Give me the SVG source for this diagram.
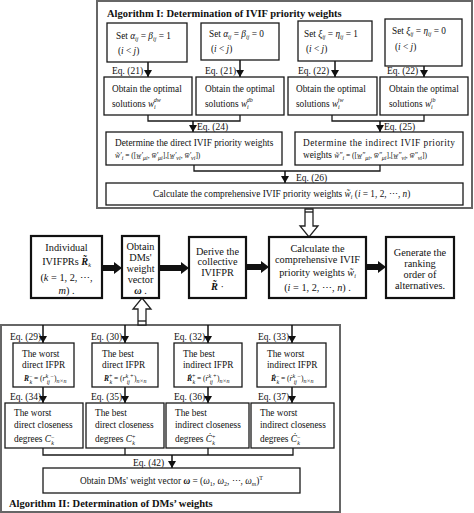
<svg xmlns="http://www.w3.org/2000/svg" width="474" height="513" viewBox="0 0 474 513">
<defs>
<marker id="ah" markerWidth="7" markerHeight="8" refX="7" refY="4" orient="auto" markerUnits="userSpaceOnUse">
<path d="M0,0 L7,4 L0,8 Z" fill="#111"/>
</marker>
<style>
text{font-family:"Liberation Serif","Times New Roman",serif;font-size:9.3px;fill:#111}
.i{font-style:italic}
.bi{font-style:italic;font-weight:bold}
.sb{font-size:6px}
.sm{font-size:7.5px}
.eq{font-size:9.5px}
.mr{font-size:10.3px}
.ttl{font-size:10.5px;font-weight:bold}
.bx{fill:#fff;stroke:#1a1a1a;stroke-width:1.3}
.bk{fill:#fff;stroke:#111;stroke-width:2.2}
.grp{fill:none;stroke:#666;stroke-width:2}
.ln{fill:none;stroke:#1a1a1a;stroke-width:1.3}
.ar{fill:none;stroke:#111;stroke-width:1.5;marker-end:url(#ah)}
.th{fill:#111}
.ho{fill:#fff;stroke:#222;stroke-width:1.3}
</style>
</defs>

<!-- group frames -->
<rect id="algI-frame" class="grp" x="97" y="1" width="375" height="207"/>
<rect id="algII-frame" class="grp" x="1" y="325" width="339" height="187"/>
<text class="ttl" x="107" y="17">Algorithm I: Determination of IVIF priority weights</text>
<text class="ttl" x="9" y="507">Algorithm II: Determination of DMs’ weights</text>

<g id="connectors">
<!-- Algorithm I -->
<line class="ar" x1="148" y1="62" x2="148" y2="77"/>
<line class="ar" x1="240" y1="60" x2="240" y2="77"/>
<line class="ar" x1="335" y1="61" x2="335" y2="77"/>
<line class="ar" x1="424" y1="66" x2="424" y2="77"/>
<text class="eq" x="112" y="74">Eq. (21)</text>
<text class="eq" x="205" y="74">Eq. (21)</text>
<text class="eq" x="298" y="74">Eq. (22)</text>
<text class="eq" x="387" y="74">Eq. (22)</text>
<polyline class="ln" points="148,115 148,121 240,121 240,115"/>
<polyline class="ln" points="332,115 332,121 424,121 424,115"/>
<line class="ar" x1="193" y1="121" x2="193" y2="132"/>
<line class="ar" x1="380" y1="121" x2="380" y2="132"/>
<text class="eq" x="197" y="130">Eq. (24)</text>
<text class="eq" x="384" y="130">Eq. (25)</text>
<polyline class="ln" points="194,165 194,171 380,171 380,165"/>
<line class="ar" x1="285" y1="171" x2="285" y2="183"/>
<text class="eq" x="296" y="181">Eq. (26)</text>
<!-- hollow arrow down -->
<path class="ho" d="M305,209 L313,209 L313,226 L318,226 L309,237 L300,226 L305,226 Z"/>
<line class="ln" x1="305" y1="212" x2="313" y2="212"/>
<!-- thick arrows main row -->
<path class="th" d="M102,265 L114,265 L114,262 L122,268 L114,274 L114,271 L102,271 Z"/>
<path class="th" d="M159,265 L181,265 L181,262 L189,268 L181,274 L181,271 L159,271 Z"/>
<path class="th" d="M246,264 L261,264 L261,261 L269,267 L261,273 L261,270 L246,270 Z"/>
<path class="th" d="M366,264 L378,264 L378,261 L386,267 L378,273 L378,270 L366,270 Z"/>
<!-- hollow arrow up -->
<path class="ho" d="M142,298 L151,309 L146,309 L146,325 L138,325 L138,309 L133,309 Z"/>
<line class="ln" x1="138" y1="321" x2="146" y2="321"/>
<!-- Algorithm II -->
<line class="ar" x1="43" y1="325" x2="43" y2="343"/>
<line class="ar" x1="125" y1="325" x2="125" y2="343"/>
<line class="ar" x1="208" y1="325" x2="208" y2="343"/>
<line class="ar" x1="292" y1="325" x2="292" y2="343"/>
<text class="eq" x="10" y="340">Eq. (29)</text>
<text class="eq" x="91" y="340">Eq. (30)</text>
<text class="eq" x="174" y="340">Eq. (32)</text>
<text class="eq" x="258" y="340">Eq. (33)</text>
<line class="ar" x1="43" y1="387" x2="43" y2="403"/>
<line class="ar" x1="125" y1="387" x2="125" y2="403"/>
<line class="ar" x1="208" y1="387" x2="208" y2="403"/>
<line class="ar" x1="292" y1="387" x2="292" y2="403"/>
<text class="eq" x="10" y="400">Eq. (34)</text>
<text class="eq" x="91" y="400">Eq. (35)</text>
<text class="eq" x="174" y="400">Eq. (36)</text>
<text class="eq" x="258" y="400">Eq. (37)</text>
<polyline class="ln" points="43,448 43,455 293,455 293,448"/>
<line class="ln" x1="125" y1="448" x2="125" y2="455"/>
<line class="ln" x1="208" y1="448" x2="208" y2="455"/>
<line class="ar" x1="172" y1="455" x2="172" y2="468"/>
<text class="eq" x="133" y="466">Eq. (42)</text>
</g>

<!-- Algorithm I nodes -->
<g id="set1"><rect class="bx" x="107" y="23" width="80" height="39"/>
<text x="116" y="39">Set  <tspan class="i">α</tspan><tspan class="sb i" dy="2">ij</tspan><tspan dy="-2"> = </tspan><tspan class="i">β</tspan><tspan class="sb i" dy="2">ij</tspan><tspan dy="-2"> = 1</tspan></text>
<text x="118" y="54">(<tspan class="i">i</tspan> &lt; <tspan class="i">j</tspan>)</text></g>
<g id="set2"><rect class="bx" x="201" y="23" width="78" height="37"/>
<text x="209" y="37">Set  <tspan class="i">α</tspan><tspan class="sb i" dy="2">ij</tspan><tspan dy="-2"> = </tspan><tspan class="i">β</tspan><tspan class="sb i" dy="2">ij</tspan><tspan dy="-2"> = 0</tspan></text>
<text x="211" y="52">(<tspan class="i">i</tspan> &lt; <tspan class="i">j</tspan>)</text></g>
<g id="set3"><rect class="bx" x="298" y="21" width="74" height="40"/>
<text x="304" y="37">Set  <tspan class="i">ξ</tspan><tspan class="sb i" dy="2">ij</tspan><tspan dy="-2"> = </tspan><tspan class="i">η</tspan><tspan class="sb i" dy="2">ij</tspan><tspan dy="-2"> = 1</tspan></text>
<text x="306" y="52">(<tspan class="i">i</tspan> &lt; <tspan class="i">j</tspan>)</text></g>
<g id="set4"><rect class="bx" x="385" y="19" width="77" height="47"/>
<text x="392" y="34">Set  <tspan class="i">ξ</tspan><tspan class="sb i" dy="2">ij</tspan><tspan dy="-2"> = </tspan><tspan class="i">η</tspan><tspan class="sb i" dy="2">ij</tspan><tspan dy="-2"> = 0</tspan></text>
<text x="395" y="50">(<tspan class="i">i</tspan> &lt; <tspan class="i">j</tspan>)</text></g>

<g id="opt1"><rect class="bx" x="104" y="77" width="88" height="38"/>
<text x="112" y="92">Obtain the optimal</text>
<text x="112" y="107">solutions  <tspan class="i">w</tspan><tspan class="sb i" dy="2">i</tspan><tspan class="sb i" dx="-2" dy="-7">dw</tspan></text></g>
<g id="opt2"><rect class="bx" x="196" y="77" width="88" height="38"/>
<text x="205" y="92">Obtain the optimal</text>
<text x="205" y="107">solutions  <tspan class="i">w</tspan><tspan class="sb i" dy="2">i</tspan><tspan class="sb i" dx="-2" dy="-7">db</tspan></text></g>
<g id="opt3"><rect class="bx" x="288" y="77" width="89" height="38"/>
<text x="296" y="92">Obtain the optimal</text>
<text x="296" y="107">solutions  <tspan class="i">w</tspan><tspan class="sb i" dy="2">i</tspan><tspan class="sb i" dx="-2" dy="-7">iw</tspan></text></g>
<g id="opt4"><rect class="bx" x="380" y="77" width="88" height="38"/>
<text x="389" y="92">Obtain the optimal</text>
<text x="389" y="107">solutions  <tspan class="i">w</tspan><tspan class="sb i" dy="2">i</tspan><tspan class="sb i" dx="-2" dy="-7">ib</tspan></text></g>

<g id="direct"><rect class="bx" x="106" y="132" width="176" height="33"/>
<text x="115" y="146">Determine the direct IVIF priority weights</text>
<text class="sm" x="115" y="158"><tspan class="i">w̃′</tspan><tspan class="sb i" dy="2">i</tspan><tspan dy="-2"> = ([</tspan><tspan class="i">w̲′</tspan><tspan class="sb i" dy="2">μi</tspan><tspan dy="-2">, </tspan><tspan class="i">w̅′</tspan><tspan class="sb i" dy="2">μi</tspan><tspan dy="-2">],[</tspan><tspan class="i">w̲′</tspan><tspan class="sb i" dy="2">νi</tspan><tspan dy="-2">, </tspan><tspan class="i">w̅′</tspan><tspan class="sb i" dy="2">νi</tspan><tspan dy="-2">])</tspan></text></g>
<g id="indirect"><rect class="bx" x="295" y="132" width="168" height="33"/>
<text x="303" y="146" textLength="152" lengthAdjust="spacing">Determine the indirect IVIF priority</text>
<text x="303" y="158">weights  <tspan class="sm"><tspan class="i">w̃″</tspan><tspan class="sb i" dy="2">i</tspan><tspan dy="-2"> = ([</tspan><tspan class="i">w̲″</tspan><tspan class="sb i" dy="2">μi</tspan><tspan dy="-2">, </tspan><tspan class="i">w̅″</tspan><tspan class="sb i" dy="2">μi</tspan><tspan dy="-2">],[</tspan><tspan class="i">w̲″</tspan><tspan class="sb i" dy="2">νi</tspan><tspan dy="-2">, </tspan><tspan class="i">w̅″</tspan><tspan class="sb i" dy="2">νi</tspan><tspan dy="-2">])</tspan></tspan></text></g>

<g id="comp"><rect class="bx" x="106" y="183" width="357" height="22"/>
<text x="153" y="197">Calculate the comprehensive IVIF priority weights   <tspan class="i">w̃</tspan><tspan class="sb i" dy="2">i</tspan><tspan dy="-2">    (</tspan><tspan class="i">i</tspan> = 1, 2, ⋯, <tspan class="i">n</tspan>)</text></g>

<!-- main row -->
<g id="nodeA"><rect class="bk" x="31" y="236" width="71" height="62"/>
<text class="mr" text-anchor="middle" x="66.5" y="251">Individual</text>
<text class="mr" text-anchor="middle" x="66.5" y="265">IVIFPRs  <tspan class="bi">R̃</tspan><tspan class="sb i" dy="2">k</tspan></text>
<text class="mr" text-anchor="middle" x="66.5" y="281">(<tspan class="i">k</tspan> = 1, 2, ⋯,</text>
<text class="mr" text-anchor="middle" x="66.5" y="294"><tspan class="i">m</tspan>) .</text></g>
<g id="nodeB"><rect class="bk" x="122" y="236" width="37" height="62"/>
<text class="mr" text-anchor="middle" x="140.5" y="250">Obtain</text>
<text class="mr" text-anchor="middle" x="140.5" y="261">DMs'</text>
<text class="mr" text-anchor="middle" x="140.5" y="272">weight</text>
<text class="mr" text-anchor="middle" x="140.5" y="283">vector</text>
<text class="mr" text-anchor="middle" x="140.5" y="294"><tspan class="bi">ω</tspan> .</text></g>
<g id="nodeC"><rect class="bk" x="189" y="237" width="57" height="61"/>
<text class="mr" text-anchor="middle" x="217.5" y="255">Derive the</text>
<text class="mr" text-anchor="middle" x="217.5" y="265">collective</text>
<text class="mr" text-anchor="middle" x="217.5" y="276">IVIFPR</text>
<text class="mr" text-anchor="middle" x="217.5" y="290"><tspan class="bi">R̃</tspan> ·</text></g>
<g id="nodeD"><rect class="bk" x="269" y="237" width="97" height="61"/>
<text class="mr" text-anchor="middle" x="317.5" y="252">Calculate the</text>
<text class="mr" text-anchor="middle" x="317.5" y="263">comprehensive IVIF</text>
<text class="mr" text-anchor="middle" x="317.5" y="276">priority weights   <tspan class="i">w̃</tspan><tspan class="sb i" dy="2">i</tspan></text>
<text class="mr" text-anchor="middle" x="317.5" y="291">(<tspan class="i">i</tspan> = 1, 2, ⋯, <tspan class="i">n</tspan>) .</text></g>
<g id="nodeE"><rect class="bk" x="386" y="237" width="68" height="61"/>
<text class="mr" text-anchor="middle" x="420" y="256">Generate the</text>
<text class="mr" text-anchor="middle" x="420" y="267">ranking</text>
<text class="mr" text-anchor="middle" x="420" y="278">order of</text>
<text class="mr" text-anchor="middle" x="420" y="289">alternatives.</text></g>

<!-- Algorithm II row 1 -->
<g id="ifpr1"><rect class="bx" x="13" y="343" width="61" height="44"/>
<text x="22" y="357">The worst</text>
<text x="22" y="368">direct IFPR</text>
<text class="sm" x="24" y="381"><tspan class="bi">R</tspan><tspan class="sb" dy="-3">−</tspan><tspan class="sb i" dx="-3" dy="6">k</tspan><tspan dy="-3"> = (</tspan><tspan class="i">r</tspan><tspan class="sb i" dy="-3">k −</tspan><tspan class="sb i" dx="-7" dy="6">ij</tspan><tspan dx="4" dy="-3">)</tspan><tspan class="sb i" dy="2">n×n</tspan></text></g>
<g id="ifpr2"><rect class="bx" x="92" y="343" width="66" height="44"/>
<text x="102" y="357">The best</text>
<text x="102" y="368">direct IFPR</text>
<text class="sm" x="104" y="381"><tspan class="bi">R</tspan><tspan class="sb" dy="-3">+</tspan><tspan class="sb i" dx="-3" dy="6">k</tspan><tspan dy="-3"> = (</tspan><tspan class="i">r</tspan><tspan class="sb i" dy="-3">k +</tspan><tspan class="sb i" dx="-7" dy="6">ij</tspan><tspan dx="4" dy="-3">)</tspan><tspan class="sb i" dy="2">n×n</tspan></text></g>
<g id="ifpr3"><rect class="bx" x="174" y="343" width="68" height="44"/>
<text x="183" y="357">The best</text>
<text x="183" y="368">indirect IFPR</text>
<text class="sm" x="187" y="381"><tspan class="bi">Ṙ</tspan><tspan class="sb" dy="-3">+</tspan><tspan class="sb i" dx="-3" dy="6">k</tspan><tspan dy="-3"> = (</tspan><tspan class="i">ṙ</tspan><tspan class="sb i" dy="-3">k +</tspan><tspan class="sb i" dx="-7" dy="6">ij</tspan><tspan dx="4" dy="-3">)</tspan><tspan class="sb i" dy="2">n×n</tspan></text></g>
<g id="ifpr4"><rect class="bx" x="257" y="343" width="69" height="44"/>
<text x="267" y="357">The worst</text>
<text x="267" y="368">indirect IFPR</text>
<text class="sm" x="271" y="381"><tspan class="bi">Ṙ</tspan><tspan class="sb" dy="-3">−</tspan><tspan class="sb i" dx="-3" dy="6">k</tspan><tspan dy="-3"> = (</tspan><tspan class="i">ṙ</tspan><tspan class="sb i" dy="-3">k −</tspan><tspan class="sb i" dx="-7" dy="6">ij</tspan><tspan dx="4" dy="-3">)</tspan><tspan class="sb i" dy="2">n×n</tspan></text></g>

<!-- Algorithm II row 2 -->
<g id="close1"><rect class="bx" x="5" y="403" width="78" height="45"/>
<text x="14" y="416">The worst</text>
<text x="14" y="428">direct  closeness</text>
<text x="14" y="442">degrees  <tspan class="i">C</tspan><tspan class="sb" dy="-3">−</tspan><tspan class="sb i" dx="-3" dy="6">k</tspan></text></g>
<g id="close2"><rect class="bx" x="86" y="403" width="78" height="45"/>
<text x="95" y="416">The best</text>
<text x="95" y="428">direct  closeness</text>
<text x="95" y="442">degrees  <tspan class="i">C</tspan><tspan class="sb" dy="-3">+</tspan><tspan class="sb i" dx="-3" dy="6">k</tspan></text></g>
<g id="close3"><rect class="bx" x="166" y="403" width="83" height="45"/>
<text x="175" y="416">The best</text>
<text x="175" y="428">indirect closeness</text>
<text x="175" y="442">degrees  <tspan class="i">Ċ</tspan><tspan class="sb" dy="-3">+</tspan><tspan class="sb i" dx="-3" dy="6">k</tspan></text></g>
<g id="close4"><rect class="bx" x="251" y="403" width="83" height="45"/>
<text x="260" y="416">The worst</text>
<text x="260" y="428">indirect closeness</text>
<text x="260" y="442">degrees  <tspan class="i">Ċ</tspan><tspan class="sb" dy="-3">−</tspan><tspan class="sb i" dx="-3" dy="6">k</tspan></text></g>

<g id="final"><rect class="bx" x="43" y="468" width="257" height="25"/>
<text x="80" y="484">Obtain DMs' weight vector   <tspan class="bi">ω</tspan> = (<tspan class="i">ω</tspan><tspan class="sb" dy="2">1</tspan><tspan dy="-2">, </tspan><tspan class="i">ω</tspan><tspan class="sb" dy="2">2</tspan><tspan dy="-2">, ⋯, </tspan><tspan class="i">ω</tspan><tspan class="sb i" dy="2">m</tspan><tspan dy="-2">)</tspan><tspan class="sb" dy="-4">T</tspan></text></g>
</svg>
